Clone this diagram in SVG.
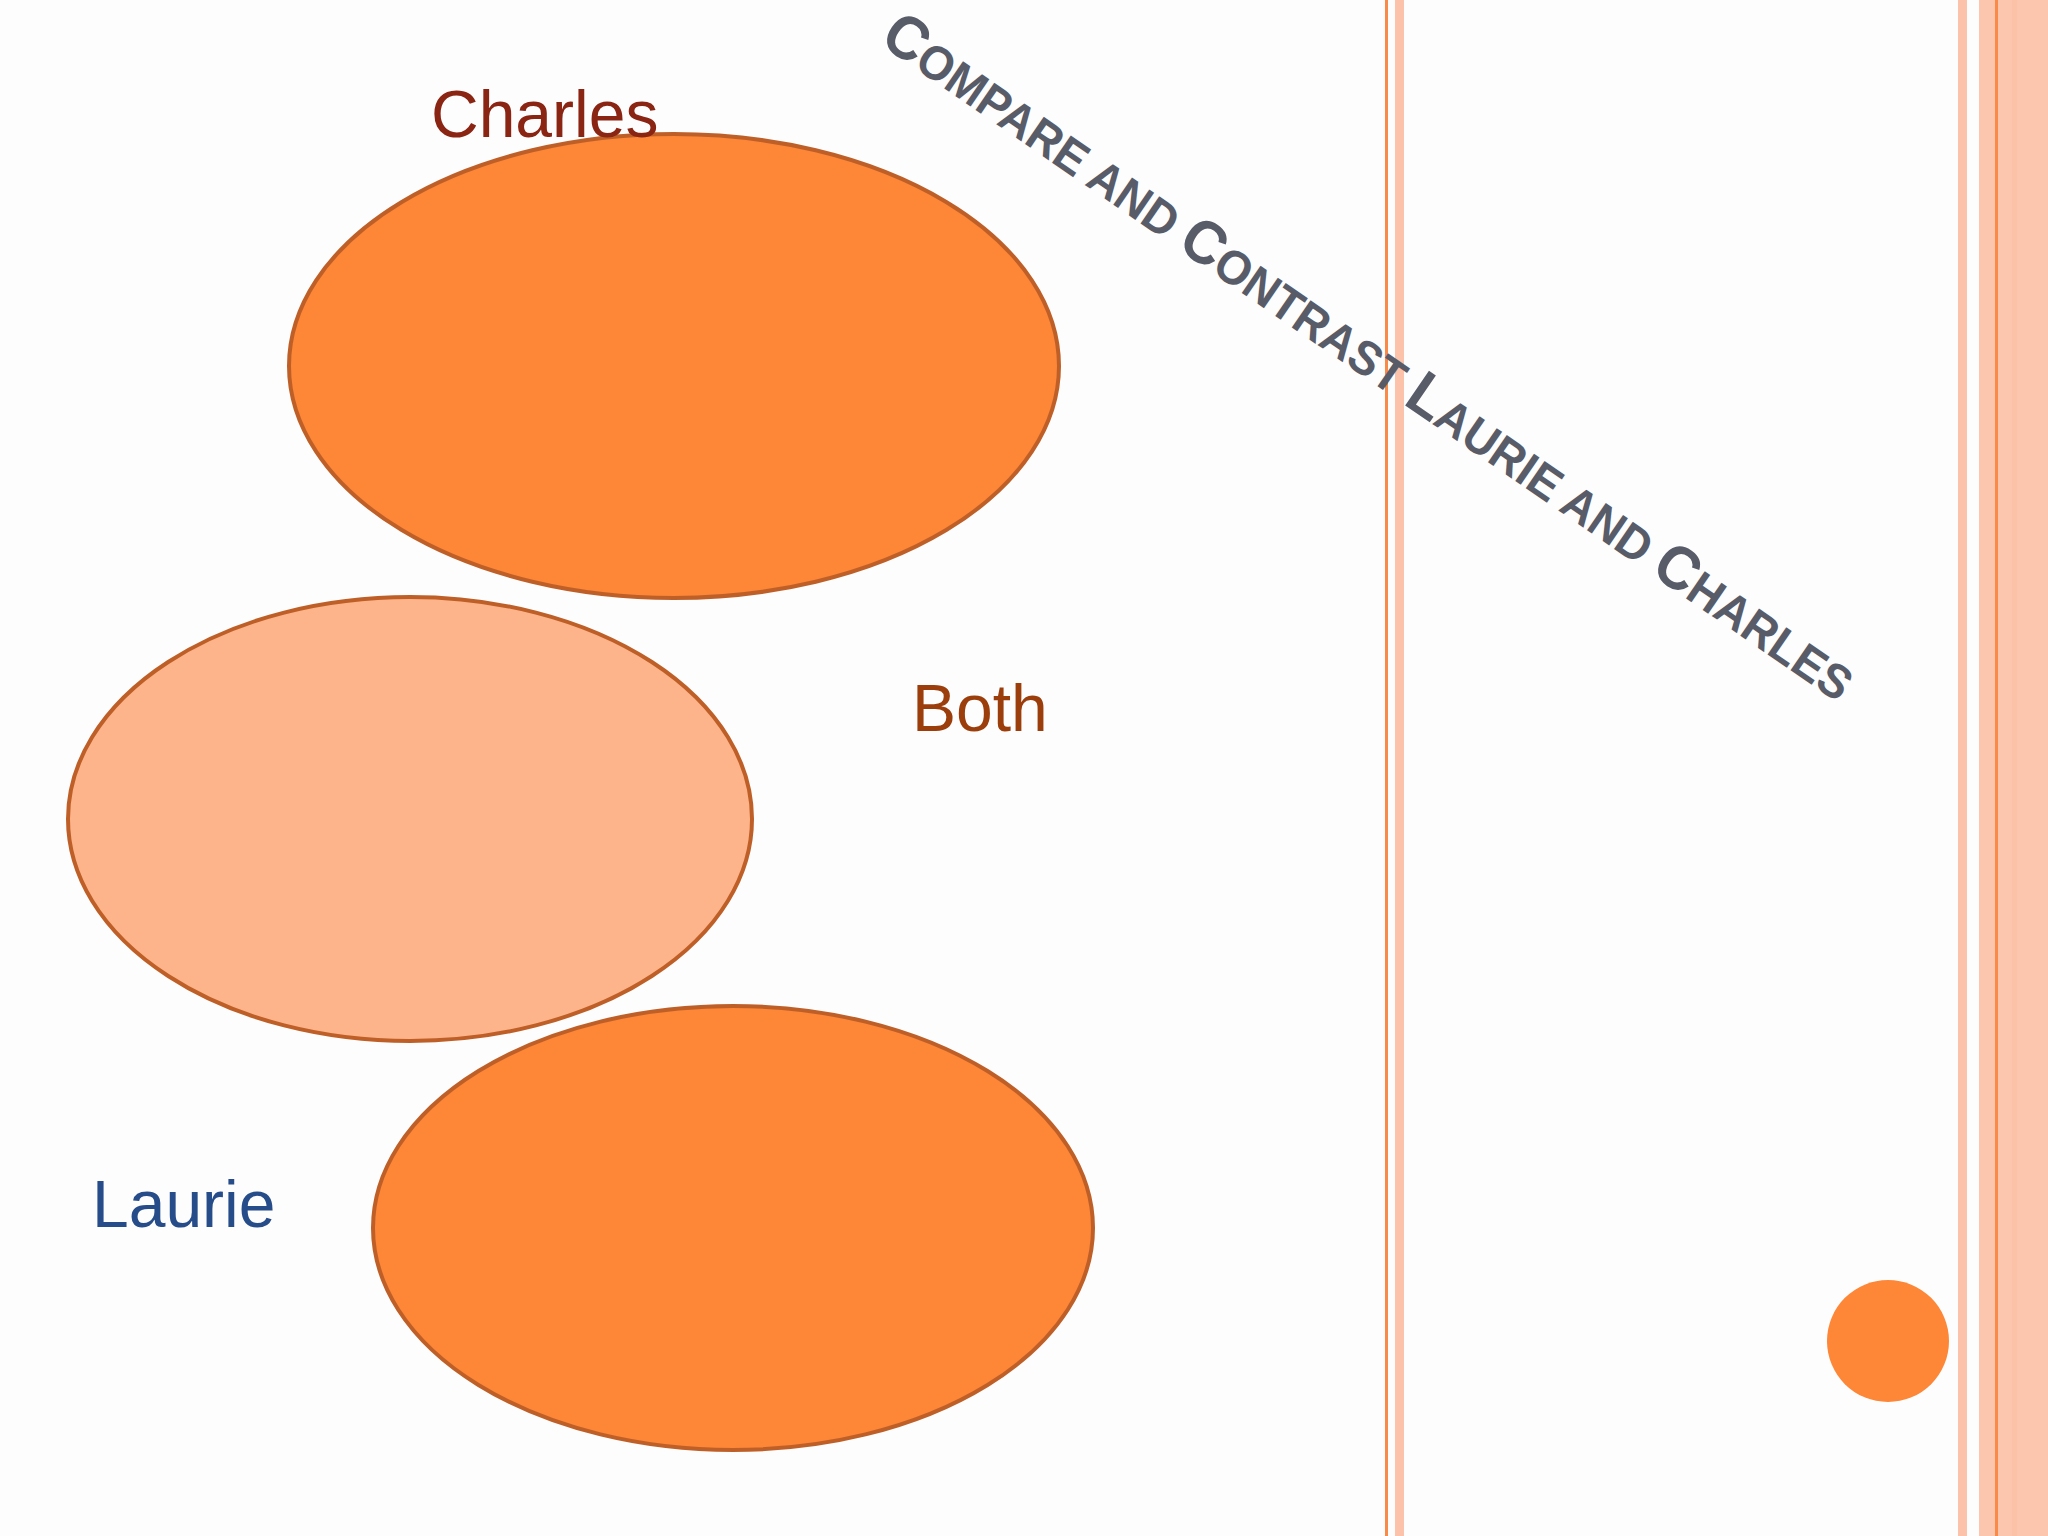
<svg xmlns="http://www.w3.org/2000/svg" width="2048" height="1536" viewBox="0 0 2048 1536">
<style>
.venn{fill:#fd8637;stroke:#bf5f28;stroke-width:4}
.venn.light{fill:#fdb48a}
.lbl{font-family:"Liberation Sans",Arial,sans-serif;font-size:66px}
.title{font-family:"Liberation Sans",Arial,sans-serif;font-weight:bold;fill:#585c68}
</style>
<rect x="0" y="0" width="2048" height="1536" fill="#fdfdfd"/>
<g id="decor">
<rect x="1385" y="0" width="3" height="1536" fill="#f98a48"/>
<rect x="1395" y="0" width="9" height="1536" fill="#fcc3aa"/>
<rect x="1958" y="0" width="9" height="1536" fill="#fcc3aa"/>
<rect x="1979" y="0" width="69" height="1536" fill="#fcc6ae"/>
<rect x="1995" y="0" width="3" height="1536" fill="#f98a48"/>
<rect x="2012" y="0" width="5" height="1536" fill="#fcc2a8"/>
<circle cx="1888" cy="1341" r="61" fill="#fd8637"/>
</g>
<g id="charles-circle"><ellipse class="venn" cx="674" cy="366" rx="385" ry="232"/></g>
<g id="both-circle"><ellipse class="venn light" cx="410" cy="819" rx="342" ry="222"/></g>
<g id="laurie-circle"><ellipse class="venn" cx="733" cy="1228" rx="360" ry="222"/></g>
<g id="labels">
<text class="lbl" x="431" y="137" fill="#8a2413">Charles</text>
<text class="lbl" x="912" y="731" fill="#9b3e0c">Both</text>
<text class="lbl" x="92" y="1227" fill="#264c8a">Laurie</text>
</g>
<g id="title">
<text class="title" transform="translate(878,43) rotate(34.5)" textLength="1165" lengthAdjust="spacingAndGlyphs"><tspan font-size="61">C</tspan><tspan font-size="48">OMPARE AND </tspan><tspan font-size="61">C</tspan><tspan font-size="48">ONTRAST </tspan><tspan font-size="61">L</tspan><tspan font-size="48">AURIE AND </tspan><tspan font-size="61">C</tspan><tspan font-size="48">HARLES</tspan></text>
</g>
</svg>
